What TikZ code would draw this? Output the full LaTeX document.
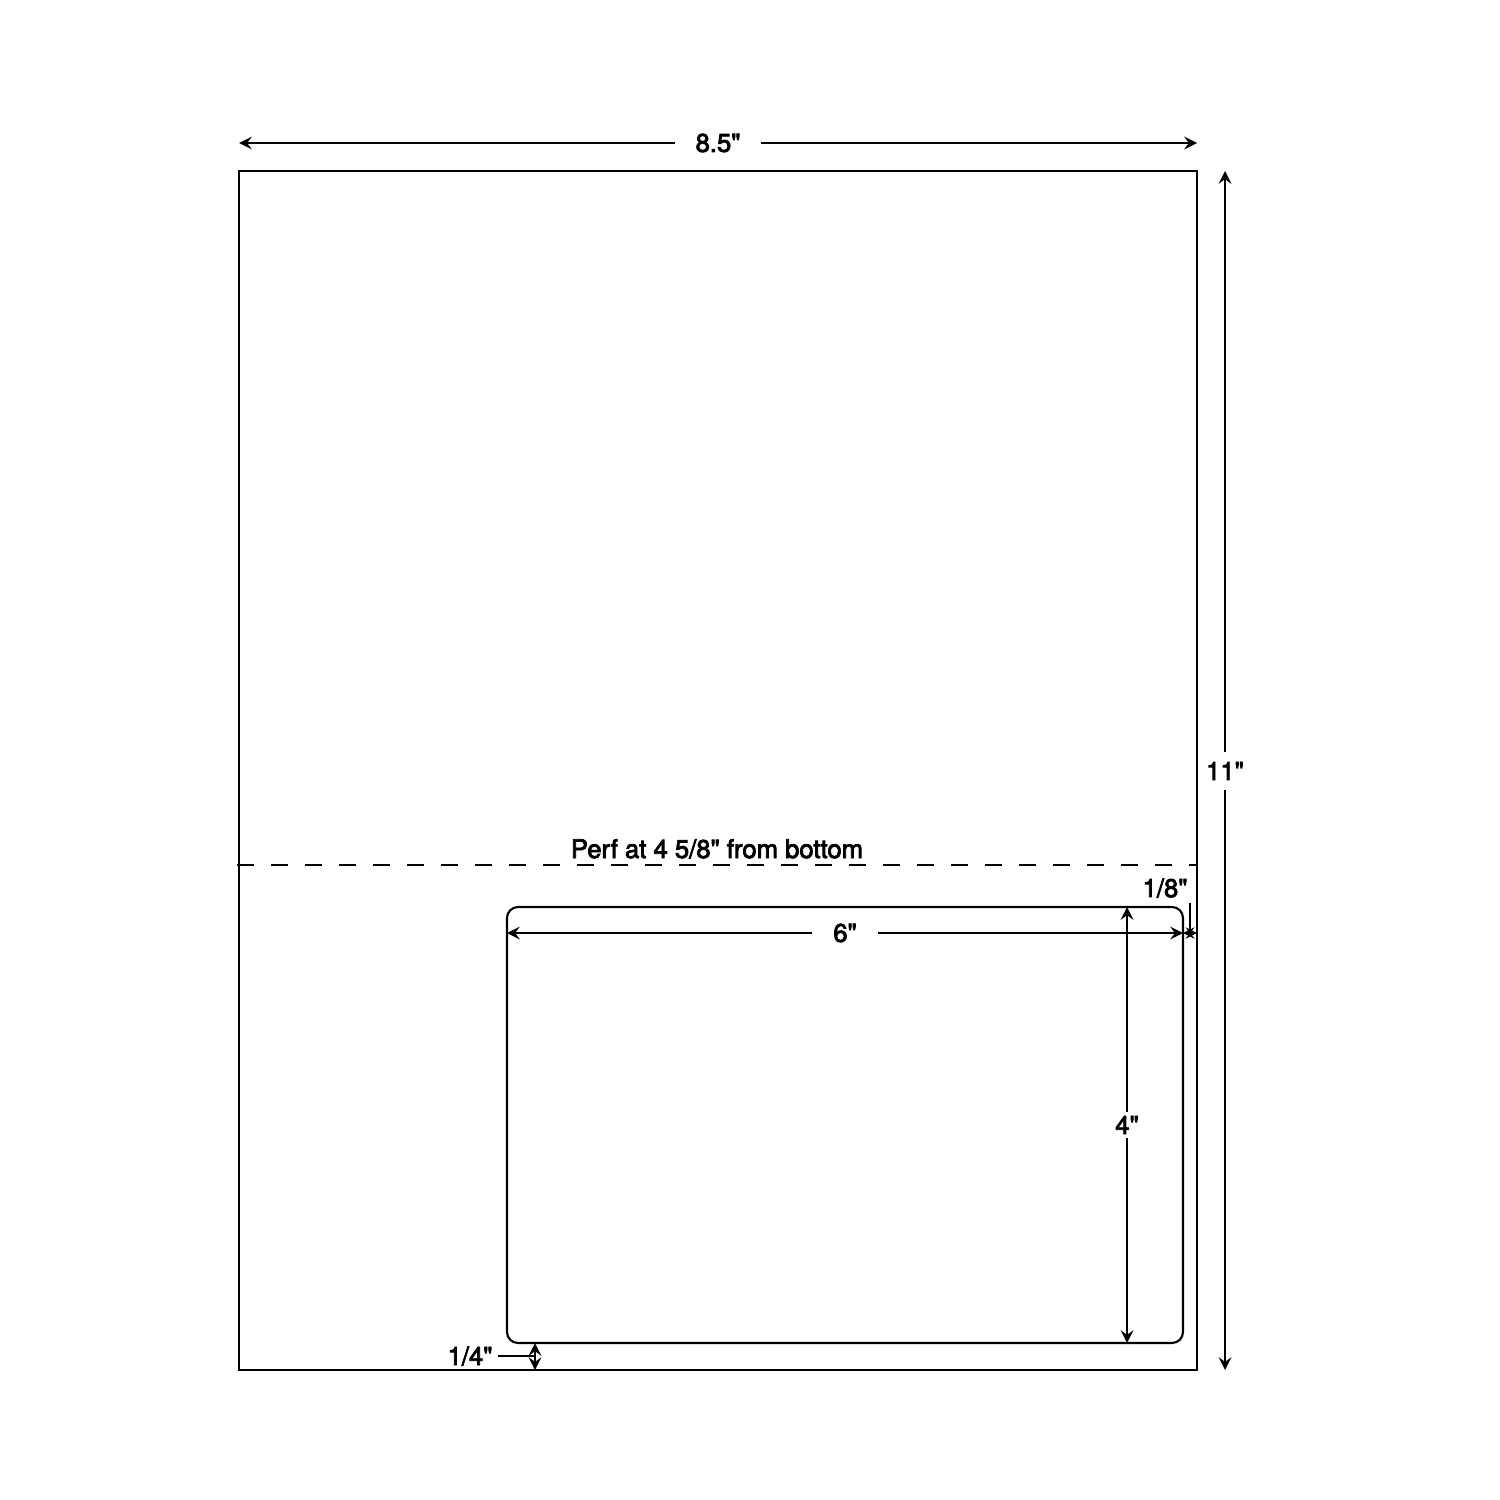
\documentclass[tikz,border=0pt]{standalone}
\usepackage{fontspec}
\setmainfont{TeX Gyre Heros}[Ligatures=TeXOff, FakeBold=3]
\begin{document}
\begin{tikzpicture}[x=0.1mm, y=-0.1mm, line width=0.6pt, font=\fontsize{7.3}{9}\selectfont,
        dimlbl/.style={inner xsep=2mm, inner ysep=0.5mm},
        vlbl/.style={inner xsep=0.5mm, inner ysep=0.9mm}]
    \useasboundingbox (0,0) rectangle (1500,1500);
    % sheet
    \draw (239,171) rectangle (1197,1370);
    % label with rounded corners
    \draw[rounded corners=1.1mm] (507,907) rectangle (1183,1343);
    % perf line
    \coordinate (pl) at (237,865);
    \coordinate (pr) at (1197,865);
    \draw[dash pattern=on 1.7mm off 1.7mm] (pl) -- (pr);
    \node[anchor=base, inner sep=0pt] (perf) at (717,858) {Perf at 4 5/8" from bottom};
    % 8.5"
    \node[dimlbl] (w) at (718,143) {8.5"};
    \coordinate (wl) at (239,143);
    \coordinate (wr) at (1197,143);
    \draw[-stealth] (w) -- (wl);
    \draw[-stealth] (w) -- (wr);
    % 11"
    \node[vlbl] (h) at (1225,771) {11"};
    \coordinate (ht) at (1225,171);
    \coordinate (hb) at (1225,1370);
    \draw[-stealth] (h) -- (ht);
    \draw[-stealth] (h) -- (hb);
    % 6"
    \node[dimlbl] (lw) at (845,933) {6"};
    \coordinate (lwl) at (507,933);
    \coordinate (lwr) at (1183,933);
    \draw[-stealth] (lw) -- (lwl);
    \draw[-stealth] (lw) -- (lwr);
    % 4"
    \node[vlbl, inner ysep=0.3mm] (lh) at (1127,1125) {4"};
    \coordinate (lht) at (1127,907);
    \coordinate (lhb) at (1127,1343);
    \draw[-stealth] (lh) -- (lht);
    \draw[-stealth] (lh) -- (lhb);
    % 1/8"
    \node (edge) at (1165,888) {1/8"};
    \coordinate (el) at (1183,933);
    \coordinate (er) at (1197,933);
    \coordinate (et) at (1190,903);
    \coordinate (eb) at (1190,933);
    \draw[stealth-stealth, line width=0.45pt] (el) -- (er);
    \draw (et) -- (eb);
    % 1/4"
    \node[inner sep=0.5mm] (bot) at (470,1356) {1/4"};
    \coordinate (bt) at (535,1343);
    \coordinate (bb) at (535,1370);
    \coordinate (bm) at (535,1356);
    \draw[stealth-stealth] (bt) -- (bb);
    \draw (bot) -- (bm);
\end{tikzpicture}
\end{document}
